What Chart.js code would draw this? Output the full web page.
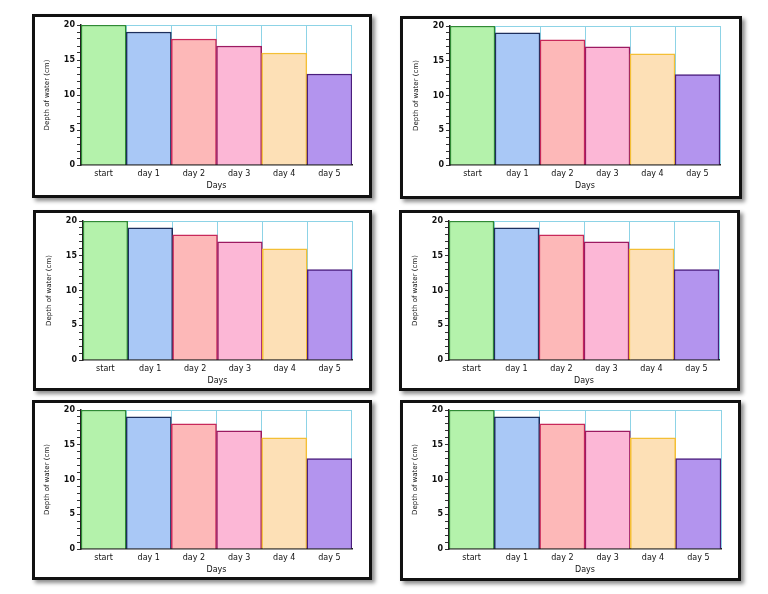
<!DOCTYPE html>
<html>
<head>
<meta charset="utf-8">
<script src="https://cdn.jsdelivr.net/npm/chart.js@4"></script>
<style>
  html, body { margin: 0; padding: 0; background: #fff; }
  body { width: 768px; height: 594px; position: relative; overflow: hidden; }
  .panel {
    position: absolute;
    box-sizing: border-box;
    border: 3px solid #111;
    background: #fff;
    box-shadow: 3px 3px 4px rgba(0, 0, 0, 0.45);
  }
  .panel canvas { display: block; }
</style>
</head>
<body>
<script>
// chart data
const days = ["start", "day 1", "day 2", "day 3", "day 4", "day 5"];
const depthCm = [20, 19, 18, 17, 16, 13];
const yTicks = [0, 5, 10, 15, 20];

// bar styles
const fillColors = ["#b4f2ab", "#a9c8f6", "#fdb8b8", "#fcb7d6", "#fde0b6", "#b394ee"];
const edgeColors = ["#2f8a35", "#1d2f5c", "#c8285a", "#9c1a62", "#f4bf35", "#4a1d7c"];

// the reference has the same chart six times, in a 3x2 grid
// box = outer border, plot = where the axes sit (page coords)
const panels = [
  { box: [32, 14, 340, 184], plot: [81, 25, 352, 165] },
  { box: [400, 16, 342, 183], plot: [450, 26, 720, 165] },
  { box: [33, 210, 339, 181], plot: [83, 221, 352, 360] },
  { box: [399, 210, 341, 181], plot: [449, 221, 719, 360] },
  { box: [32, 400, 340, 180], plot: [81, 410, 352, 549] },
  { box: [400, 400, 341, 181], plot: [449, 410, 721, 549] }
];

const BORDER = 3;
const Y_AXIS_W = 38;
const X_AXIS_H = 26;
const family = "'DejaVu Sans', Verdana, sans-serif";
const font = { family, size: 8 };

function drawPanel(p) {
  const [bx, by, bw, bh] = p.box;
  const [pl, pt, pr, pb] = p.plot;
  const div = document.createElement('div');
  div.className = 'panel';
  div.style.left = bx + 'px';
  div.style.top = by + 'px';
  div.style.width = bw + 'px';
  div.style.height = bh + 'px';
  const cw = bw - 2 * BORDER, ch = bh - 2 * BORDER;
  const canvas = document.createElement('canvas');
  canvas.width = cw;
  canvas.height = ch;
  canvas.style.width = cw + 'px';
  canvas.style.height = ch + 'px';
  div.appendChild(canvas);
  document.body.appendChild(div);

  const innerL = bx + BORDER, innerT = by + BORDER;
  const padding = {
    left: pl - innerL - Y_AXIS_W,
    top: pt - innerT,
    right: innerL + cw - pr,
    bottom: innerT + ch - pb - X_AXIS_H
  };

  new Chart(canvas.getContext('2d'), {
    type: 'bar',
    data: {
      labels: days,
      datasets: [{
        data: depthCm,
        backgroundColor: fillColors,
        borderColor: edgeColors,
        borderWidth: 1.5,
        categoryPercentage: 1,
        barPercentage: 1
      }]
    },
    options: {
      responsive: false,
      animation: false,
      devicePixelRatio: 1,
      layout: { padding },
      plugins: { legend: { display: false }, tooltip: { enabled: false } },
      scales: {
        x: {
          afterFit: s => { s.height = X_AXIS_H; },
          grid: { color: '#8dd3e6', lineWidth: 1, offset: true, tickLength: 0, drawTicks: false },
          border: { color: '#222', width: 1.5 },
          ticks: { color: '#111', font, padding: 4, maxRotation: 0 },
          title: { display: true, text: 'Days', color: '#111', font, padding: { top: 0, bottom: 0 } }
        },
        y: {
          min: 0,
          max: 20,
          afterFit: s => { s.width = Y_AXIS_W; },
          afterBuildTicks: s => { s.ticks = Array.from({ length: 21 }, (_, i) => ({ value: i })); },
          grid: {
            color: c => (c.tick && c.tick.value === 20 ? '#8dd3e6' : 'rgba(0,0,0,0)'),
            tickColor: '#333',
            tickLength: 4,
            lineWidth: 1
          },
          border: { color: '#222', width: 1.5 },
          ticks: {
            color: '#111',
            font: { family, size: 8, weight: 'bold' },
            padding: 2,
            autoSkip: false,
            callback: v => (yTicks.includes(v) ? v : '')
          },
          title: { display: true, text: 'Depth of water (cm)', color: '#111', font: { family, size: 7 }, padding: { top: 0, bottom: 4 } }
        }
      }
    }
  });
}

panels.forEach(drawPanel);
</script>
</body>
</html>
